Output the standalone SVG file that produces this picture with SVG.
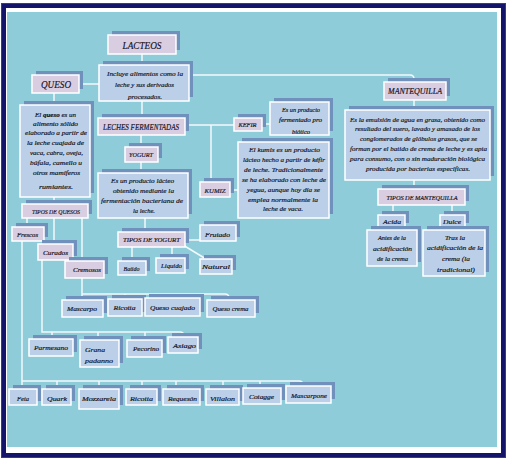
<svg xmlns="http://www.w3.org/2000/svg" width="507" height="459" viewBox="0 0 507 459">
<style>
.sh{fill:#6f91bb}
.t{fill:#d8cde1;stroke:#ffffff;stroke-width:1.5}
.d{fill:#bbd0e8;stroke:#ffffff;stroke-width:1.5}
.c{fill:none;stroke:#f2f9fb;stroke-width:1.5}
text{font-family:"Liberation Serif",serif;font-style:italic;fill:#14141e;stroke:#14141e;stroke-width:0.18;text-anchor:middle}
.s7{font-size:7px}
.s65{font-size:6.5px}
</style>
<defs>
<clipPath id="kc"><rect x="270" y="102" width="59" height="32"/></clipPath>
</defs>
<rect x="0" y="0" width="507" height="459" fill="#ffffff"/>
<rect x="3.5" y="5.5" width="500" height="450" fill="none" stroke="#14146a" stroke-width="5"/>
<rect x="1.5" y="3.5" width="504" height="454" fill="none" stroke="#3a3a80" stroke-width="1"/>
<rect x="7" y="12" width="490" height="435" fill="#8fccd9"/>

<g id="connectors" class="c">
<path d="M142 54V65"/>
<path d="M79 84H99"/>
<path d="M189 75H410Q414 75 414 79V82"/>
<path d="M54 93V105"/>
<path d="M142 101V118"/>
<path d="M141 135V147"/>
<path d="M141 162V173"/>
<path d="M185 125H234"/>
<path d="M211 125V190H200"/>
<path d="M262 124H270"/>
<path d="M230 190H238"/>
<path d="M54 197V204"/>
<path d="M27 218V227M54 218V244M82 218V261"/>
<path d="M22 241V389M22 381H299Q303 381 303 385V386M57 381V389M99 381V389M142 381V389M176 381V389M223 381V389M260 381V388"/>
<path d="M42 260V332H180Q184 332 184 336V337M52 332V339M98 332V340M145 332V340"/>
<path d="M82 277V300M82 294H225Q229 294 229 298V300M125 294V299M172 294V298"/>
<path d="M145 218V232"/>
<path d="M185 240H200"/>
<path d="M132 247V261M172 247V258M183 245L206 259"/>
<path d="M414 100V110"/>
<path d="M414 180V189"/>
<path d="M393 205V215M452 205V215"/>
<path d="M393 227V230M454 227V230"/>
</g>

<g id="lacteos"><rect class="sh" x="112" y="31" width="68" height="19"/><rect class="t" x="108" y="35" width="68" height="19"/><text x="142" y="49" font-size="11" textLength="39" lengthAdjust="spacingAndGlyphs">LACTEOS</text></g>

<g id="lacteos-desc"><rect class="sh" x="103" y="61" width="90" height="36"/><rect class="d" x="99" y="65" width="90" height="36"/>
<text class="s7" x="145" y="75.5" textLength="76" lengthAdjust="spacingAndGlyphs">Incluye alimentos como la</text>
<text class="s7" x="144.5" y="87" textLength="59" lengthAdjust="spacingAndGlyphs">leche y sus derivados</text>
<text class="s7" x="145" y="99" textLength="34" lengthAdjust="spacingAndGlyphs">procesados.</text></g>

<g id="queso"><rect class="sh" x="36" y="71" width="47" height="18"/><rect class="t" x="32" y="75" width="47" height="18"/><text x="56" y="88" font-size="11" textLength="30" lengthAdjust="spacingAndGlyphs">QUESO</text></g>

<g id="queso-desc"><rect class="sh" x="24" y="101" width="70" height="92"/><rect class="d" x="20" y="105" width="70" height="92"/>
<text class="s65" x="55.5" y="117" textLength="41" lengthAdjust="spacingAndGlyphs">El <tspan font-weight="bold">queso</tspan> es un</text>
<text class="s65" x="55.5" y="126" textLength="45" lengthAdjust="spacingAndGlyphs">alimento sólido</text>
<text class="s65" x="56" y="135" textLength="62" lengthAdjust="spacingAndGlyphs">elaborado a partir de</text>
<text class="s65" x="55.5" y="145" textLength="57" lengthAdjust="spacingAndGlyphs">la leche cuajada de</text>
<text class="s65" x="56.5" y="155" textLength="53" lengthAdjust="spacingAndGlyphs">vaca, cabra, oveja,</text>
<text class="s65" x="56" y="165" textLength="52" lengthAdjust="spacingAndGlyphs">búfala, camello u</text>
<text class="s65" x="56.5" y="175" textLength="47" lengthAdjust="spacingAndGlyphs">otros mamíferos</text>
<text class="s65" x="56" y="189" textLength="34" lengthAdjust="spacingAndGlyphs">rumiantes.</text></g>

<g id="leches"><rect class="sh" x="102" y="114" width="87" height="17"/><rect class="t" x="98" y="118" width="87" height="17"/><text x="141" y="129.5" font-size="9" textLength="76" lengthAdjust="spacingAndGlyphs">LECHES FERMENTADAS</text></g>

<g id="yogurt"><rect class="sh" x="129" y="143" width="33" height="15"/><rect class="t" x="125" y="147" width="33" height="15"/><text x="141" y="157" font-size="7" textLength="24" lengthAdjust="spacingAndGlyphs">YOGURT</text></g>

<g id="yogurt-desc"><rect class="sh" x="102" y="169" width="90" height="45"/><rect class="d" x="98" y="173" width="90" height="45"/>
<text class="s7" x="142.5" y="183" textLength="63" lengthAdjust="spacingAndGlyphs">Es un producto lácteo</text>
<text class="s7" x="143.5" y="193" textLength="61" lengthAdjust="spacingAndGlyphs">obtenido mediante la</text>
<text class="s7" x="142" y="203" textLength="82" lengthAdjust="spacingAndGlyphs">fermentación bacteriana de</text>
<text class="s7" x="144" y="212.5" textLength="22" lengthAdjust="spacingAndGlyphs">la leche.</text></g>

<g id="kefir"><rect class="sh" x="238" y="114" width="28" height="13"/><rect class="t" x="234" y="118" width="28" height="13"/><text x="247.5" y="127" font-size="6.5" textLength="18" lengthAdjust="spacingAndGlyphs">KEFIR</text></g>

<g id="kefir-desc"><rect class="sh" x="274" y="98" width="59" height="33"/><rect class="d" x="270" y="102" width="59" height="33"/>
<g clip-path="url(#kc)">
<text class="s65" x="301" y="112" textLength="38" lengthAdjust="spacingAndGlyphs">Es un producto</text>
<text class="s65" x="300.5" y="122" textLength="43" lengthAdjust="spacingAndGlyphs">fermentado pro</text>
<text class="s65" x="301" y="133.5" textLength="18" lengthAdjust="spacingAndGlyphs">biótico</text></g></g>

<g id="kumiz"><rect class="sh" x="204" y="178" width="30" height="15"/><rect class="t" x="200" y="182" width="30" height="15"/><text x="215" y="192.5" font-size="7" textLength="21" lengthAdjust="spacingAndGlyphs">KUMIZ</text></g>

<g id="kumiz-desc"><rect class="sh" x="242" y="138" width="91" height="76"/><rect class="d" x="238" y="142" width="91" height="76"/>
<text class="s7" x="284.5" y="152" textLength="71" lengthAdjust="spacingAndGlyphs">El kumis es un producto</text>
<text class="s7" x="284" y="162" textLength="82" lengthAdjust="spacingAndGlyphs">lácteo hecho a partir de kéfir</text>
<text class="s7" x="283.5" y="172" textLength="79" lengthAdjust="spacingAndGlyphs">de leche. Tradicionalmente</text>
<text class="s7" x="284" y="182" textLength="84" lengthAdjust="spacingAndGlyphs">se ha elaborado con leche de</text>
<text class="s7" x="283.5" y="192" textLength="73" lengthAdjust="spacingAndGlyphs">yegua, aunque hoy día se</text>
<text class="s7" x="283" y="201.5" textLength="70" lengthAdjust="spacingAndGlyphs">emplea normalmente la</text>
<text class="s7" x="283" y="211" textLength="40" lengthAdjust="spacingAndGlyphs">leche de vaca.</text></g>

<g id="mantequilla"><rect class="sh" x="388" y="78" width="62" height="18"/><rect class="t" x="384" y="82" width="62" height="18"/><text x="415" y="94" font-size="8.5" textLength="54" lengthAdjust="spacingAndGlyphs">MANTEQUILLA</text></g>

<g id="mantequilla-desc"><rect class="sh" x="349" y="106" width="145" height="70"/><rect class="d" x="345" y="110" width="145" height="70"/>
<text class="s7" x="417.5" y="122" textLength="135" lengthAdjust="spacingAndGlyphs">Es la emulsión de agua en grasa, obtenido como</text>
<text class="s7" x="417.5" y="131" textLength="125" lengthAdjust="spacingAndGlyphs">resultado del suero, lavado y amasado de los</text>
<text class="s7" x="418.5" y="141" textLength="117" lengthAdjust="spacingAndGlyphs">conglomerados de glóbulos grasos, que se</text>
<text class="s7" x="418.5" y="150.5" textLength="137" lengthAdjust="spacingAndGlyphs">forman por el batido de crema de leche y es apta</text>
<text class="s7" x="417.5" y="160.5" textLength="135" lengthAdjust="spacingAndGlyphs">para consumo, con o sin maduración biológica</text>
<text class="s7" x="418" y="171" textLength="104" lengthAdjust="spacingAndGlyphs">producida  por bacterias específicas.</text></g>

<g id="tipos-mantequilla"><rect class="sh" x="382" y="185" width="87" height="16"/><rect class="t" x="378" y="189" width="87" height="16"/><text x="422" y="199.5" font-size="6.5" textLength="71" lengthAdjust="spacingAndGlyphs">TIPOS DE MANTEQUILLA</text></g>

<g id="acida"><rect class="sh" x="382" y="211" width="27" height="12"/><rect class="d" x="378" y="215" width="27" height="12"/><text class="s65" x="392" y="223.5" textLength="18" lengthAdjust="spacingAndGlyphs">Acida</text></g>
<g id="dulce"><rect class="sh" x="444" y="211" width="25" height="12"/><rect class="d" x="440" y="215" width="25" height="12"/><text class="s65" x="452" y="223.5" textLength="18" lengthAdjust="spacingAndGlyphs">Dulce</text></g>

<g id="acida-desc"><rect class="sh" x="371" y="226" width="50" height="36"/><rect class="d" x="367" y="230" width="50" height="36"/>
<text class="s65" x="392" y="240" textLength="28" lengthAdjust="spacingAndGlyphs">Antes de la</text>
<text class="s65" x="392.5" y="251" textLength="39" lengthAdjust="spacingAndGlyphs">acidificación</text>
<text class="s65" x="392.5" y="261" textLength="31" lengthAdjust="spacingAndGlyphs">de la crema</text></g>

<g id="dulce-desc"><rect class="sh" x="427" y="226" width="62" height="46"/><rect class="d" x="423" y="230" width="62" height="46"/>
<text class="s65" x="455" y="240" textLength="20" lengthAdjust="spacingAndGlyphs">Tras la</text>
<text class="s65" x="455" y="250" textLength="56" lengthAdjust="spacingAndGlyphs">acidificación de la</text>
<text class="s65" x="456" y="261" textLength="28" lengthAdjust="spacingAndGlyphs">crema (la</text>
<text class="s65" x="456" y="272" textLength="38" lengthAdjust="spacingAndGlyphs">tradicional)</text></g>

<g id="tipos-quesos"><rect class="sh" x="26" y="200" width="66" height="14"/><rect class="t" x="22" y="204" width="66" height="14"/><text x="56" y="213.5" font-size="6.5" textLength="48" lengthAdjust="spacingAndGlyphs">TIPOS DE QUESOS</text></g>

<g id="frescos"><rect class="sh" x="16" y="223" width="32" height="14"/><rect class="t" x="12" y="227" width="32" height="14"/><text class="s65" x="27.5" y="237" textLength="21" lengthAdjust="spacingAndGlyphs">Frescos</text></g>
<g id="curados"><rect class="sh" x="42" y="240" width="35" height="16"/><rect class="t" x="38" y="244" width="35" height="16"/><text class="s65" x="55.5" y="254.5" textLength="25" lengthAdjust="spacingAndGlyphs">Curados</text></g>
<g id="cremosos"><rect class="sh" x="69" y="257" width="39" height="17"/><rect class="t" x="65" y="261" width="39" height="17"/><text class="s65" x="87" y="271.5" textLength="28" lengthAdjust="spacingAndGlyphs">Cremosos</text></g>

<g id="tipos-yogurt"><rect class="sh" x="122" y="228" width="67" height="15"/><rect class="t" x="118" y="232" width="67" height="15"/><text x="151.5" y="242" font-size="6.5" textLength="57" lengthAdjust="spacingAndGlyphs">TIPOS DE YOGURT</text></g>

<g id="frutado"><rect class="sh" x="204" y="221" width="36" height="16"/><rect class="d" x="200" y="225" width="36" height="16"/><text class="s65" x="217.5" y="237" textLength="25" lengthAdjust="spacingAndGlyphs">Frutado</text></g>
<g id="batido"><rect class="sh" x="122" y="257" width="28" height="14"/><rect class="d" x="118" y="261" width="28" height="14"/><text class="s65" x="131.5" y="270.5" textLength="16" lengthAdjust="spacingAndGlyphs">Batido</text></g>
<g id="liquido"><rect class="sh" x="160" y="254" width="29" height="15"/><rect class="d" x="156" y="258" width="29" height="15"/><text class="s65" x="171.5" y="268" textLength="21" lengthAdjust="spacingAndGlyphs">Liquido</text></g>
<g id="natural"><rect class="sh" x="204" y="255" width="32" height="15"/><rect class="d" x="200" y="259" width="32" height="15"/><text class="s65" x="216" y="268.5" textLength="28" lengthAdjust="spacingAndGlyphs">Natural</text></g>

<g id="mascarpo"><rect class="sh" x="66" y="296" width="41" height="17"/><rect class="d" x="62" y="300" width="41" height="17"/><text class="s65" x="82" y="311" textLength="30" lengthAdjust="spacingAndGlyphs">Mascarpo</text></g>
<g id="ricotta1"><rect class="sh" x="112" y="295" width="34" height="17"/><rect class="d" x="108" y="299" width="34" height="17"/><text class="s65" x="124.5" y="310" textLength="22" lengthAdjust="spacingAndGlyphs">Ricotta</text></g>
<g id="queso-cuajado"><rect class="sh" x="149" y="294" width="55" height="18"/><rect class="d" x="145" y="298" width="55" height="18"/><text class="s65" x="172.5" y="310" textLength="45" lengthAdjust="spacingAndGlyphs">Queso cuajado</text></g>
<g id="queso-crema"><rect class="sh" x="211" y="296" width="48" height="17"/><rect class="d" x="207" y="300" width="48" height="17"/><text class="s65" x="230.5" y="311" textLength="36" lengthAdjust="spacingAndGlyphs">Queso crema</text></g>

<g id="parmesano"><rect class="sh" x="33" y="335" width="44" height="17"/><rect class="d" x="29" y="339" width="44" height="17"/><text class="s65" x="51" y="350" textLength="34" lengthAdjust="spacingAndGlyphs">Parmesano</text></g>
<g id="grana"><rect class="sh" x="84" y="336" width="39" height="27"/><rect class="d" x="80" y="340" width="39" height="27"/><text class="s7" x="85" y="352" style="text-anchor:start" textLength="20" lengthAdjust="spacingAndGlyphs">Grana</text><text class="s7" x="85" y="363" style="text-anchor:start" textLength="28" lengthAdjust="spacingAndGlyphs">padanno</text></g>
<g id="pecorino"><rect class="sh" x="131" y="336" width="35" height="17"/><rect class="d" x="127" y="340" width="35" height="17"/><text class="s65" x="146" y="351" textLength="26" lengthAdjust="spacingAndGlyphs">Pecorino</text></g>
<g id="asiago"><rect class="sh" x="172" y="333" width="30" height="16"/><rect class="d" x="168" y="337" width="30" height="16"/><text class="s65" x="184.5" y="347.5" textLength="23" lengthAdjust="spacingAndGlyphs">Asiago</text></g>

<g id="feta"><rect class="sh" x="13" y="385" width="28" height="16"/><rect class="d" x="9" y="389" width="28" height="16"/><text class="s65" x="23" y="400.5" textLength="12" lengthAdjust="spacingAndGlyphs">Feta</text></g>
<g id="quark"><rect class="sh" x="46" y="385" width="29" height="16"/><rect class="d" x="42" y="389" width="29" height="16"/><text class="s65" x="57" y="400.5" textLength="20" lengthAdjust="spacingAndGlyphs">Quark</text></g>
<g id="mozzarela"><rect class="sh" x="83" y="385" width="40" height="20"/><rect class="d" x="79" y="389" width="40" height="20"/><text class="s65" x="99" y="401" textLength="34" lengthAdjust="spacingAndGlyphs">Mozzarela</text></g>
<g id="ricotta2"><rect class="sh" x="130" y="385" width="31" height="16"/><rect class="d" x="126" y="389" width="31" height="16"/><text class="s65" x="141.5" y="400.5" textLength="23" lengthAdjust="spacingAndGlyphs">Ricotta</text></g>
<g id="requeson"><rect class="sh" x="167" y="385" width="37" height="16"/><rect class="d" x="163" y="389" width="37" height="16"/><text class="s65" x="182.5" y="400.5" textLength="29" lengthAdjust="spacingAndGlyphs">Requesón</text></g>
<g id="villalon"><rect class="sh" x="210" y="385" width="33" height="16"/><rect class="d" x="206" y="389" width="33" height="16"/><text class="s65" x="222.5" y="400.5" textLength="25" lengthAdjust="spacingAndGlyphs">Villalon</text></g>
<g id="cotagge"><rect class="sh" x="247" y="384" width="38" height="16"/><rect class="d" x="243" y="388" width="38" height="16"/><text class="s65" x="261.5" y="399" textLength="25" lengthAdjust="spacingAndGlyphs">Cotagge</text></g>
<g id="mascarpone"><rect class="sh" x="290" y="382" width="45" height="17"/><rect class="d" x="286" y="386" width="45" height="17"/><text class="s65" x="309" y="398" textLength="36" lengthAdjust="spacingAndGlyphs">Mascarpone</text></g>
</svg>
